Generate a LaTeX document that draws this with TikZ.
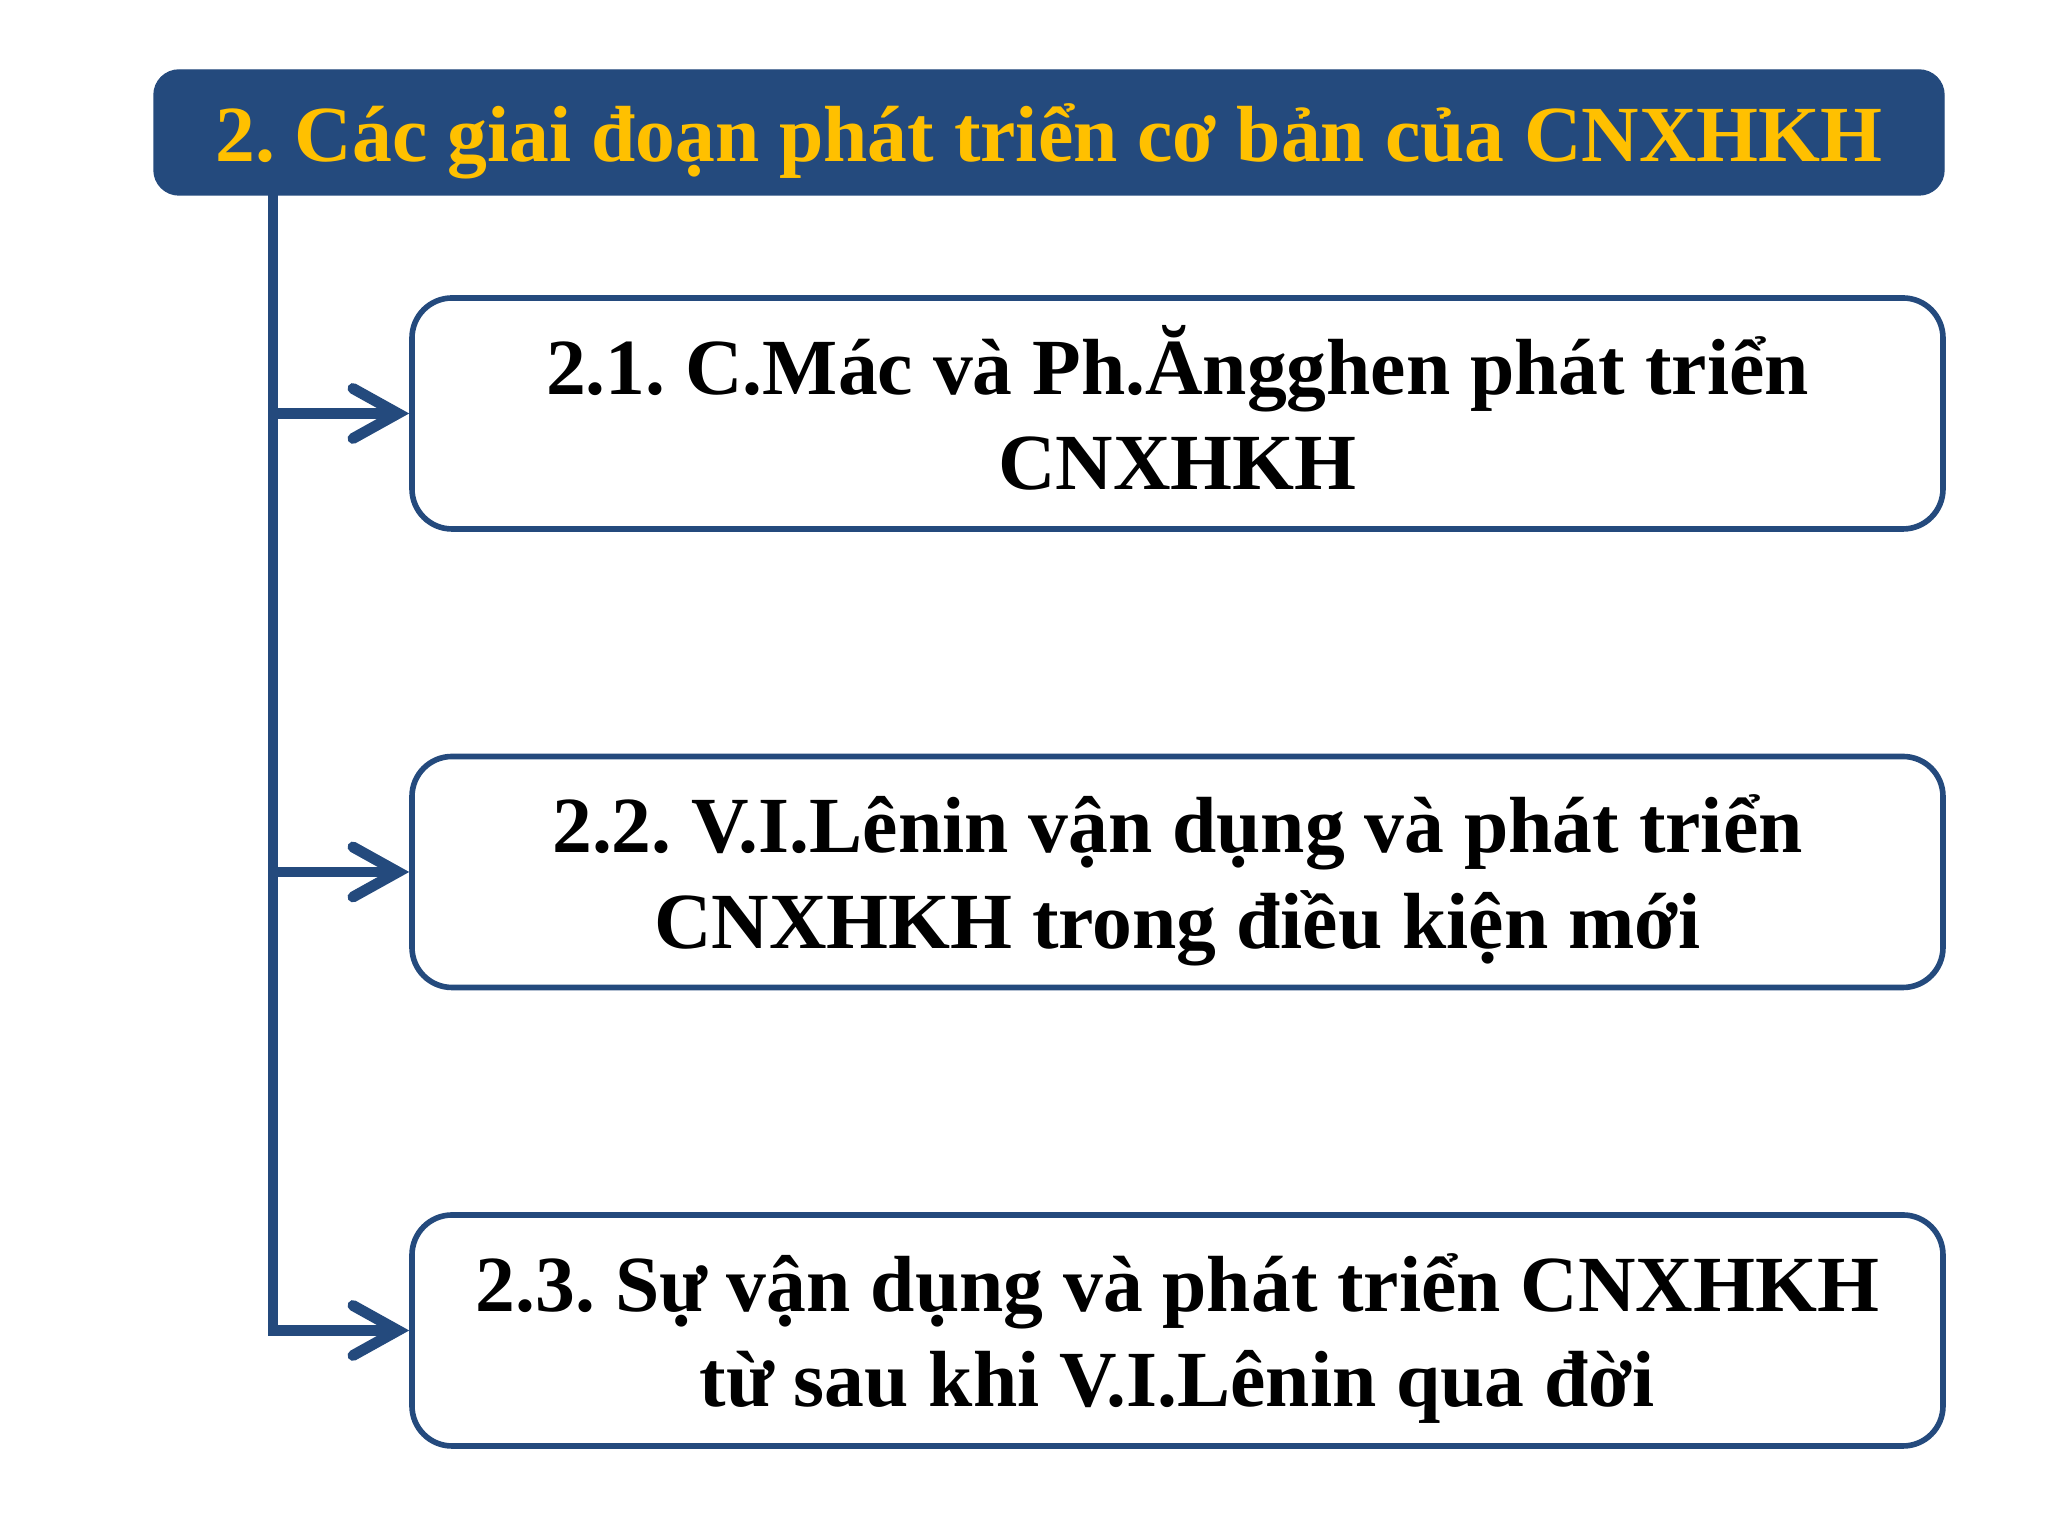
\documentclass[tikz,border=0pt]{standalone}
\usepackage{fontspec}
\setmainfont{Liberation Serif}
\usetikzlibrary{arrows.meta}

\definecolor{azul}{RGB}{36,74,125}
\definecolor{dorado}{RGB}{255,192,0}

\tikzset{
    titulo/.style={fill=azul, draw=azul, rounded corners=0.25cm, inner sep=0pt,
        minimum width=17.9cm, minimum height=1.25cm, text=dorado,
        text height=0.7cm, text depth=0.11cm,
        font=\bfseries\fontsize{22.65}{27.2}\selectfont},
    caja/.style={draw=azul, line width=1.6pt, fill=white, rounded corners=0.4cm,
        minimum width=15.31cm, minimum height=2.31cm, align=center, inner sep=0pt,
        text height=1.6cm, text depth=0.07cm,
        font=\bfseries\fontsize{22.65}{27.2}\selectfont},
    linea/.style={draw=azul, line width=3.1pt},
    flecha/.style={linea, -{Straight Barb[length=0.45cm, width=0.5cm, line cap=round]}}
}

\begin{document}
\frenchspacing
\begin{tikzpicture} %Etapas de desarrollo del CNXHKH
        \useasboundingbox (0,0) rectangle (20.48,15.36);

        \node[titulo] (T) at (10.49,14.035) {2. Các giai đoạn phát triển cơ bản của CNXHKH};

        \node[caja] (C1) at (11.775,11.225) {2.1. C.Mác và Ph.Ăngghen phát triển\\CNXHKH};
        \node[caja] (C2) at (11.775,6.64) {2.2. V.I.Lênin vận dụng và phát triển\\CNXHKH trong điều kiện mới};
        \node[caja] (C3) at (11.775,2.055) {2.3. Sự vận dụng và phát triển CNXHKH\\từ sau khi V.I.Lênin qua đời};

        \coordinate (E) at (2.73,13.41);

        \draw[flecha] (E) |- (C3.west);
        \draw[flecha] (E |- C1.west) -- (C1.west);
        \draw[flecha] (E |- C2.west) -- (C2.west);
    \end{tikzpicture}
\end{document}
